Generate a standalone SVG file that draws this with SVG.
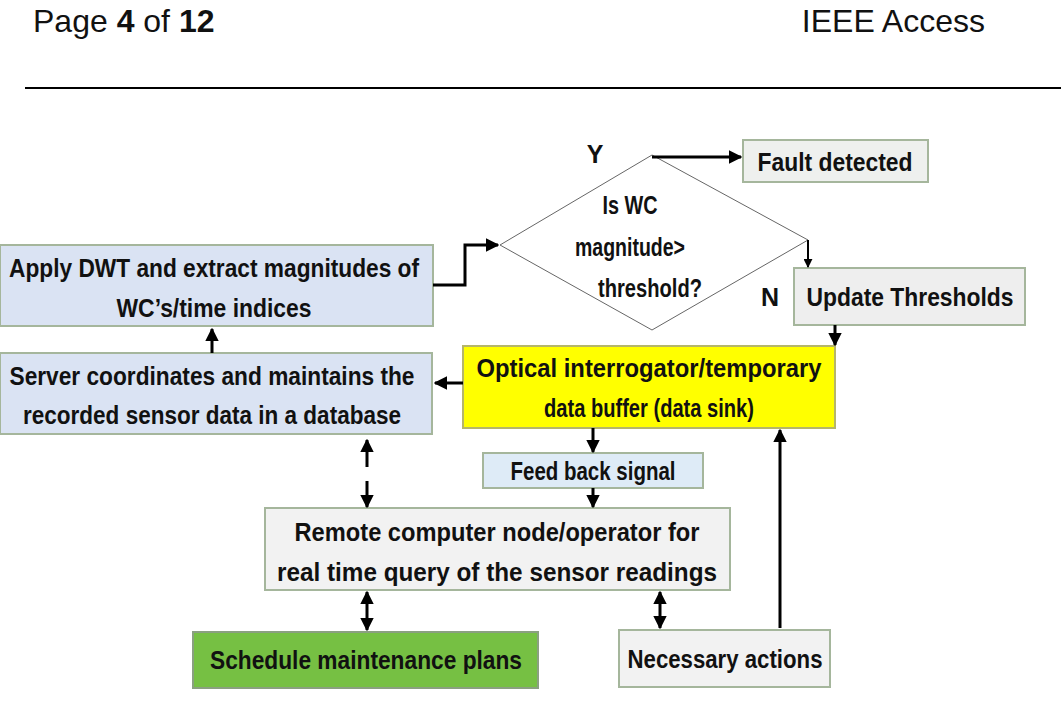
<svg xmlns="http://www.w3.org/2000/svg" width="1061" height="724" viewBox="0 0 1061 724">
<style>
text{font-family:"Liberation Sans",Arial,sans-serif;fill:#111}
.n{font-weight:bold;font-size:25px;text-anchor:middle}
.h{font-size:32px}
.b{stroke:#a5b69c;stroke-width:2}
.c{stroke:#000;stroke-width:3;fill:none}
</style>
<defs>
<marker id="a" viewBox="0 0 10 10" refX="9" refY="5" markerWidth="4.5" markerHeight="4.5" orient="auto-start-reverse"><path d="M0,0L10,5L0,10z" fill="#000"/></marker>
</defs>
<rect width="1061" height="724" fill="#fff"/>
<text x="33" y="32" class="h">Page <tspan font-weight="bold">4</tspan> of <tspan font-weight="bold">12</tspan></text>
<text x="985" y="32" class="h" text-anchor="end">IEEE Access</text>
<line x1="25" y1="88" x2="1061" y2="88" stroke="#000" stroke-width="2"/>
<g id="apply"><rect x="0" y="245" width="433" height="81" fill="#dae3f3" class="b"/>
<text class="n" x="214" y="277" textLength="410" lengthAdjust="spacingAndGlyphs">Apply DWT and extract magnitudes of</text>
<text class="n" x="214" y="317" textLength="195" lengthAdjust="spacingAndGlyphs">WC’s/time indices</text></g>
<g id="server"><rect x="0" y="353" width="432" height="81" fill="#dae3f3" class="b"/>
<text class="n" x="212" y="385" textLength="405" lengthAdjust="spacingAndGlyphs">Server coordinates and maintains the</text>
<text class="n" x="212" y="424" textLength="378" lengthAdjust="spacingAndGlyphs">recorded sensor data in a database</text></g>
<g id="decision"><path d="M500,245L652,155L808,240L652,330Z" fill="#fff" stroke="#666" stroke-width="1"/>
<text class="n" x="630" y="214" textLength="55" lengthAdjust="spacingAndGlyphs">Is WC</text>
<text class="n" x="630" y="256" textLength="110" lengthAdjust="spacingAndGlyphs">magnitude&gt;</text>
<text class="n" x="650" y="297" textLength="104" lengthAdjust="spacingAndGlyphs">threshold?</text></g>
<text class="n" x="595" y="163">Y</text>
<text class="n" x="770" y="306">N</text>
<g id="fault"><rect x="743" y="140" width="185" height="42" fill="#eef0ee" class="b"/>
<text class="n" x="835" y="171" textLength="155" lengthAdjust="spacingAndGlyphs">Fault detected</text></g>
<g id="update"><rect x="794" y="268" width="231" height="57" fill="#eeeeee" class="b"/>
<text class="n" x="910" y="306" textLength="207" lengthAdjust="spacingAndGlyphs">Update Thresholds</text></g>
<g id="buffer"><rect x="463" y="346" width="372" height="82" fill="#ffff00" stroke="#b5b56a" stroke-width="2"/>
<text class="n" x="649" y="377" textLength="345" lengthAdjust="spacingAndGlyphs">Optical interrogator/temporary</text>
<text class="n" x="649" y="417" textLength="210" lengthAdjust="spacingAndGlyphs">data buffer (data sink)</text></g>
<g id="feedback"><rect x="483" y="453" width="220" height="35" fill="#deebf7" class="b"/>
<text class="n" x="593" y="480" textLength="165" lengthAdjust="spacingAndGlyphs">Feed back signal</text></g>
<g id="remote"><rect x="265" y="508" width="465" height="82" fill="#f2f2f2" class="b"/>
<text class="n" x="497" y="541" textLength="405" lengthAdjust="spacingAndGlyphs">Remote computer node/operator for</text>
<text class="n" x="497" y="581" textLength="440" lengthAdjust="spacingAndGlyphs">real time query of the sensor readings</text></g>
<g id="schedule"><rect x="193" y="632" width="345" height="56" fill="#76c043" stroke="#8aa080" stroke-width="2"/>
<text class="n" x="366" y="669" textLength="312" lengthAdjust="spacingAndGlyphs">Schedule maintenance plans</text></g>
<g id="actions"><rect x="619" y="630" width="211" height="57" fill="#f2f2f2" class="b"/>
<text class="n" x="725" y="668" textLength="195" lengthAdjust="spacingAndGlyphs">Necessary actions</text></g>
<g id="connectors">
<path class="c" d="M212,353V329" marker-end="url(#a)"/>
<path class="c" d="M433,285H465V245H498" marker-end="url(#a)"/>
<path class="c" d="M652,157H741" marker-end="url(#a)"/>
<path d="M808,240V267" stroke="#000" stroke-width="2" marker-end="url(#a)"/>
<path class="c" d="M835,325V345" marker-end="url(#a)"/>
<path class="c" d="M463,383H435" marker-end="url(#a)"/>
<path class="c" d="M593,428V452" marker-end="url(#a)"/>
<path class="c" d="M593,488V507" marker-end="url(#a)"/>
<path class="c" d="M367,467V440" marker-end="url(#a)"/>
<path class="c" d="M367,481V507" marker-end="url(#a)"/>
<path class="c" d="M367,592V630" marker-start="url(#a)" marker-end="url(#a)"/>
<path class="c" d="M660,592V628" marker-start="url(#a)" marker-end="url(#a)"/>
<path class="c" d="M780,628V430" marker-end="url(#a)"/>
</g>
</svg>
